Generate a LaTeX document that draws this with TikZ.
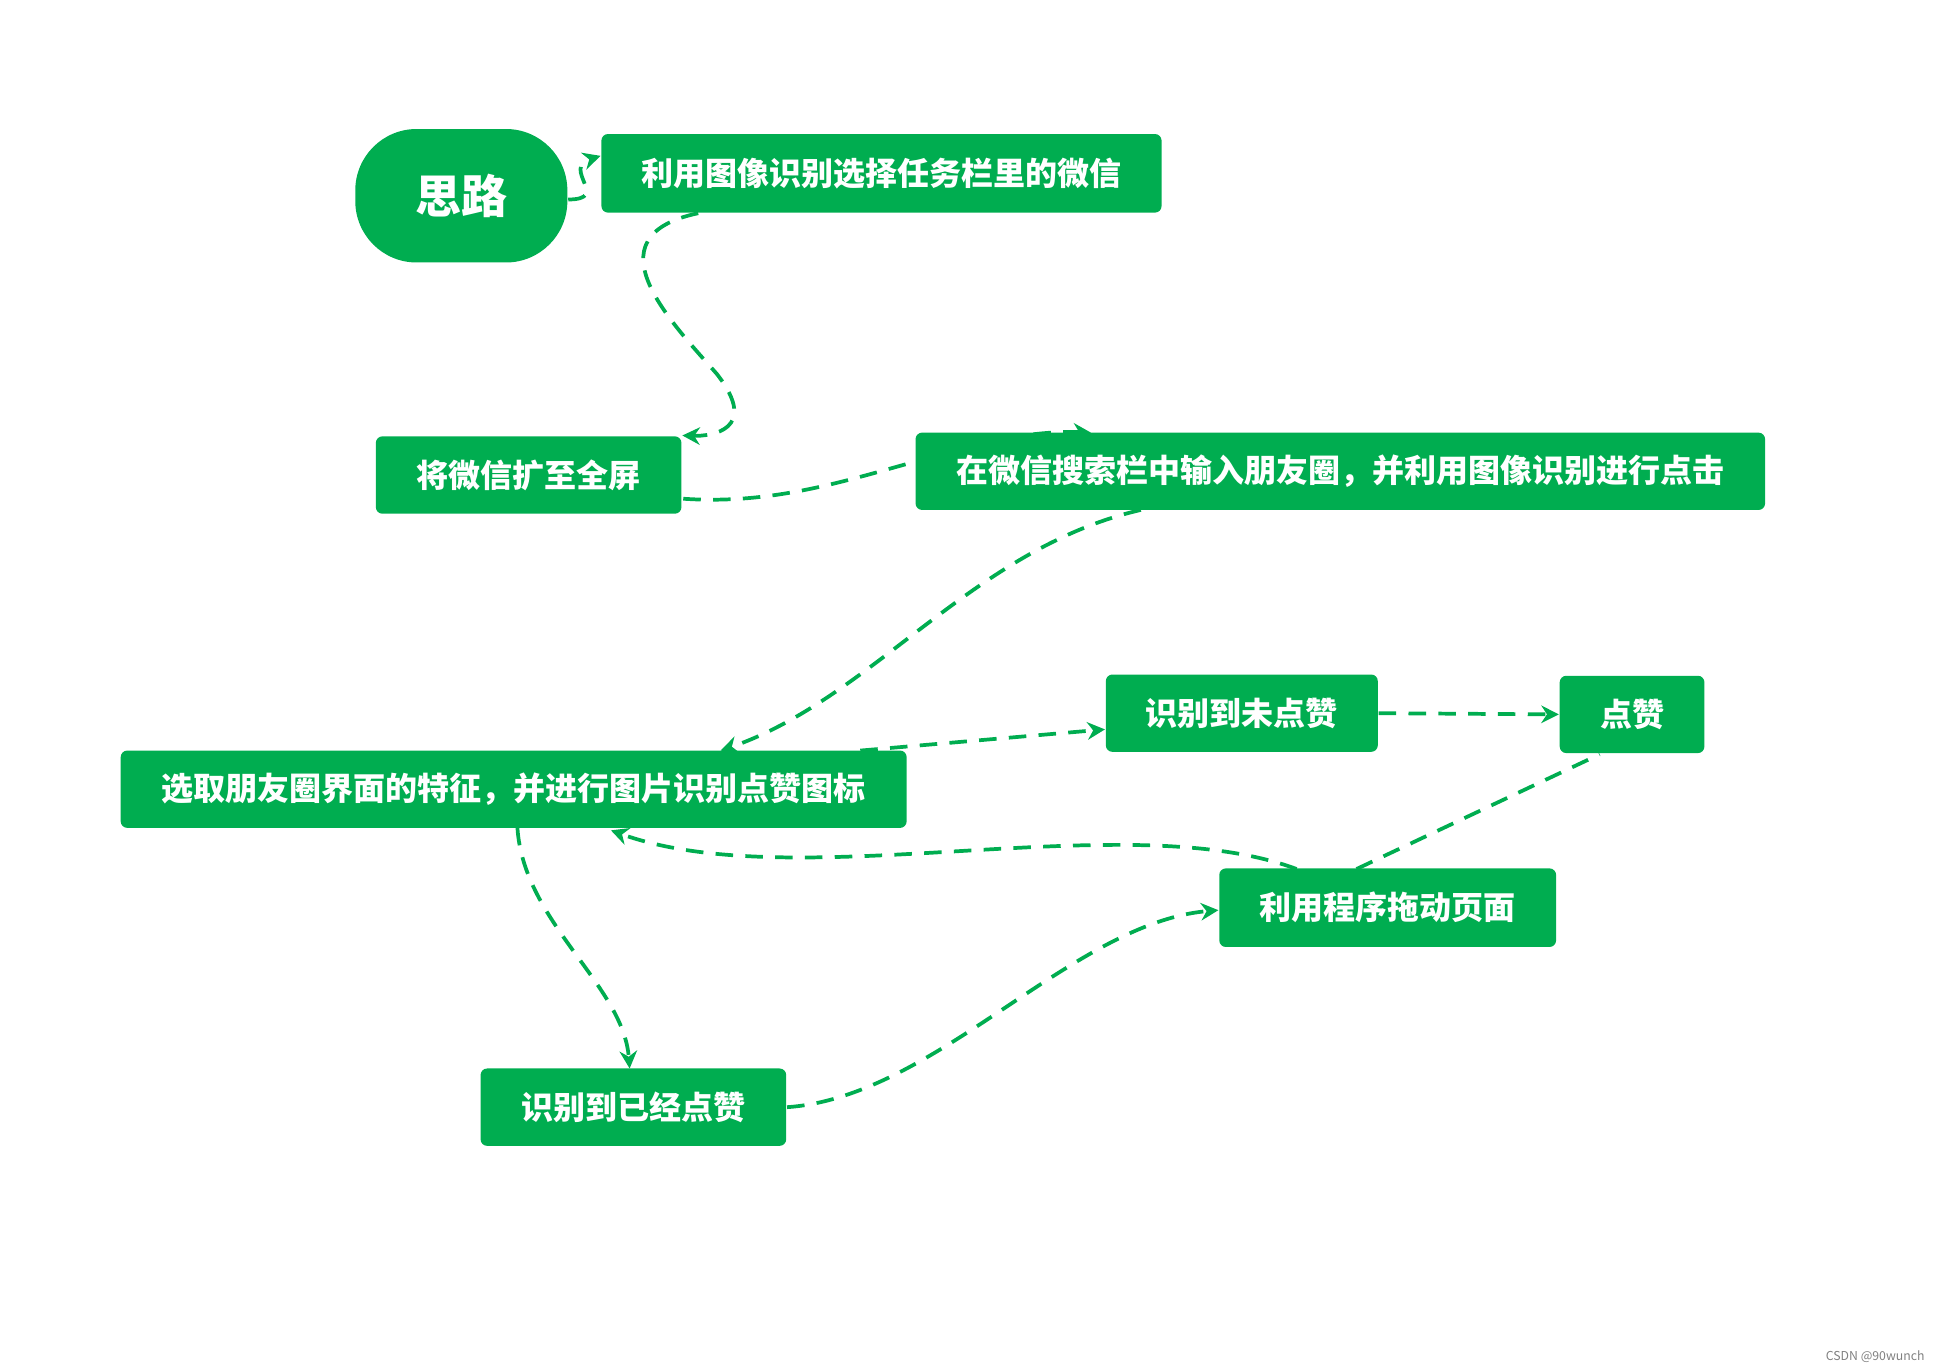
\documentclass[tikz,border=0pt]{standalone}
\usepackage{fontspec}
\setmainfont{Noto Sans CJK SC}
\usetikzlibrary{arrows.meta}
\definecolor{wxgreen}{RGB}{0,173,80}
\tikzset{
  		box/.style = {% green box with white text
    	rectangle, rounded corners=1.5pt,
    	fill=wxgreen,
    	text=white,
    	font=\fontsize{7.3}{8}\selectfont\bfseries,
    	anchor=center, inner sep=0pt,
  	},
  	flow/.style = {% dashed green connector
  	  wxgreen, line width=0.85pt, dash pattern=on 4pt off 2.8pt,
  	  -{Stealth[length=4pt,width=4pt]},
  	}
	}
\begin{document}
\begin{tikzpicture}[x=0.01cm,y=-0.01cm]
    	\useasboundingbox (0,0) rectangle (1568,1100);
    	\node[box, rounded corners=14pt, minimum width=1.70cm, minimum height=1.07cm,
    	  font=\fontsize{10.5}{12}\selectfont\bfseries] (idea) at (370,157) {思路};
    	\node[box, minimum width=4.49cm, minimum height=0.63cm] (pick) at (707,139) {利用图像识别选择任务栏里的微信};
    	\node[box, minimum width=2.45cm, minimum height=0.62cm] (full) at (424,381) {将微信扩至全屏};
    	\node[box, minimum width=6.81cm, minimum height=0.62cm] (search) at (1075,378) {在微信搜索栏中输入朋友圈，并利用图像识别进行点击};
    	\node[box, minimum width=6.30cm, minimum height=0.62cm] (feat) at (412,633) {选取朋友圈界面的特征，并进行图片识别点赞图标};
    	\node[box, minimum width=2.18cm, minimum height=0.62cm] (unliked) at (996,572) {识别到未点赞};
    	\node[box, minimum width=1.16cm, minimum height=0.62cm] (like) at (1309,573) {点赞};
    	\node[box, minimum width=2.70cm, minimum height=0.63cm] (drag) at (1113,728) {利用程序拖动页面};
    	\node[box, minimum width=2.45cm, minimum height=0.62cm] (liked) at (508,888) {识别到已经点赞};
    	\node[text=gray, font=\fontsize{2.8}{3}\selectfont, anchor=east] (mark) at (1556,1088) {CSDN @90wunch};
    	% connectors
    	\draw[flow] (idea.east) ++(0,3) .. controls (490,160) and (450,135) .. (pick.west |- 0,125);
    	\draw[flow] (560,171) .. controls (470,190) and (540,260) .. (575,300)
    	   .. controls (610,345) and (570,350) .. (full.north east);
    	\draw[flow] (548,400) .. controls (620,405) and (680,385) .. (735,370)
    	   .. controls (780,355) and (830,345) .. (875,347);
    	\draw[flow] (915,409) .. controls (780,440) and (700,560) .. (578,602);
    	\draw[flow] (690,602) -- (unliked.west |- 0,585);
    	\draw[flow] (unliked.east) -- (like.west);
    	\draw[flow, -] (1088,697) -- (1283,605);
    	\draw[flow] (1040,697) .. controls (900,645) and (640,720) .. (490,666);
    	\draw[flow] (415,664) .. controls (420,740) and (500,790) .. (505,857);
    	\draw[flow] (liked.east) .. controls (750,880) and (860,740) .. (drag.west |- 0,730);
 	\end{tikzpicture}
\end{document}
